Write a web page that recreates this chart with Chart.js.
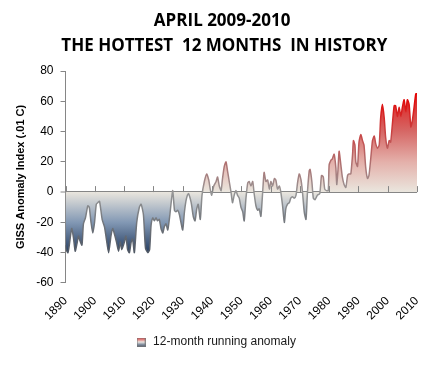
<!DOCTYPE html>
<html>
<head>
<meta charset="utf-8">
<script src="https://cdn.jsdelivr.net/npm/chart.js@4/dist/chart.umd.min.js"></script>
<style>
  html, body { margin: 0; padding: 0; background: #fff; }
  #wrap { width: 442px; height: 365px; }
</style>
</head>
<body>
<div id="wrap"><canvas id="anomalyChart" width="442" height="365"></canvas></div>
<script>
// years (decimal) and 12-month running GISS anomaly (.01 C)
var years = [
  1890.0, 1890.2, 1890.8, 1891.2, 1892.1, 1892.7, 1893.3, 1893.9, 1894.4, 1894.9,
  1895.6, 1896.1, 1896.8, 1897.6, 1898.1, 1898.7, 1899.3, 1899.9, 1900.5, 1901.0,
  1901.6, 1902.5, 1903.3, 1903.8, 1904.7, 1905.5, 1906.1, 1906.6, 1907.4, 1908.1,
  1908.7, 1909.2, 1910.1, 1910.6, 1911.2, 1911.8, 1912.4, 1912.9, 1913.5, 1914.3,
  1915.2, 1915.8, 1916.6, 1917.3, 1918.1, 1918.7, 1919.2, 1919.8, 1920.3, 1920.9,
  1921.4, 1922.0, 1922.6, 1923.2, 1923.7, 1924.3, 1924.9, 1925.5, 1926.0, 1926.6,
  1927.2, 1927.7, 1928.3, 1928.9, 1929.4, 1930.0, 1930.6, 1931.1, 1931.6, 1932.0,
  1932.9, 1933.6, 1934.2, 1934.8, 1935.3, 1936.0, 1936.6, 1937.4, 1938.2, 1938.9,
  1939.4, 1939.9, 1940.6, 1941.4, 1941.9, 1942.5, 1943.1, 1943.6, 1944.2, 1944.8,
  1945.3, 1945.9, 1946.5, 1947.0, 1947.6, 1948.2, 1948.7, 1949.3, 1949.9, 1950.5,
  1951.0, 1951.6, 1952.2, 1952.7, 1953.3, 1953.9, 1954.4, 1955.0, 1955.6, 1956.1,
  1956.7, 1957.3, 1957.8, 1958.4, 1959.0, 1959.6, 1960.1, 1960.7, 1961.3, 1961.8,
  1962.4, 1963.0, 1963.5, 1964.1, 1964.7, 1965.2, 1965.8, 1966.4, 1966.9, 1967.5,
  1968.1, 1968.7, 1969.2, 1969.8, 1970.4, 1970.9, 1971.5, 1972.1, 1972.6, 1973.2,
  1973.5, 1974.1, 1974.6, 1975.2, 1976.0, 1976.8, 1977.4, 1978.0, 1978.5, 1979.1,
  1979.7, 1980.0, 1980.6, 1981.1, 1981.7, 1982.3, 1982.6, 1983.0, 1983.4, 1984.0,
  1984.5, 1985.1, 1985.7, 1986.3, 1986.8, 1987.4, 1988.0, 1988.3, 1988.8, 1989.1,
  1989.7, 1990.2, 1990.8, 1991.4, 1991.9, 1992.5, 1993.1, 1993.6, 1994.2, 1994.8,
  1995.4, 1995.9, 1996.5, 1997.1, 1997.6, 1998.2, 1998.8, 1999.3, 1999.9, 2000.5,
  2001.0, 2001.6, 2002.2, 2002.7, 2003.3, 2003.9, 2004.5, 2005.0, 2005.6, 2006.2,
  2006.7, 2007.3, 2007.9, 2008.4, 2009.0, 2009.6, 2010.0
];
var anomaly = [
  -35, -38, -40, -36, -24, -30, -39, -34, -29, -32,
  -35, -21, -17, -9, -10, -20, -27, -20, -8, -7,
  -6, -18, -23, -29, -40, -29, -24, -27, -33, -39,
  -33, -38, -33, -29, -38, -40, -33, -31, -40, -20,
  -10, -8, -15, -37, -40, -38, -22, -17, -19, -17,
  -19, -18, -24, -27, -23, -21, -25, -17, -8, 1,
  -12, -13, -12, -15, -20, -25, -13, -6, -2, -1,
  -7, -16, -19, -11, -8, -18, -2, 7, 12, 8,
  2, -2, 4, 7, 10, 4, 1, 9, 17, 20,
  14, 7, 0, -7, -2, 1, -2, -4, -10, -13,
  -19, -4, 6, 7, 4, 7, -1, -9, -12, -11,
  -16, 0, 13, 7, 8, 2, 7, 4, 9, 8,
  2, 4, 0, -9, -20, -11, -8, -7, -4, -3,
  -4, -2, 6, 12, 8, 0, -13, -18, 0, 14,
  15, 7, -4, -5, -2, -1, 11, 10, 2, 1,
  1, 18, 21, 22, 25, 16, 5, 14, 27, 18,
  10, 5, 3, 11, 12, 12, 25, 34, 31, 20,
  17, 33, 38, 34, 31, 16, 9, 11, 22, 34,
  37, 32, 29, 31, 49, 58, 49, 36, 29, 34,
  33, 45, 57, 57, 50, 56, 50, 56, 61, 53,
  61, 58, 43, 47, 56, 65, 65
];
var yTicks = [80, 60, 40, 20, 0, -20, -40, -60];
var xTicks = [1890, 1900, 1910, 1920, 1930, 1940, 1950, 1960, 1970, 1980, 1990, 2000, 2010];

var points = years.map(function(y, i) { return { x: y, y: anomaly[i] }; });

// red above zero, beige at zero, blue below
var fillStops = [
  [65, 'rgb(222,24,24)'],
  [40, 'rgb(214,104,102)'],
  [20, 'rgb(228,176,170)'],
  [0, 'rgb(234,230,222)'],
  [-20, 'rgb(130,152,180)'],
  [-40, 'rgb(36,60,96)']
];
var lineStops = [
  [65, 'rgb(230,0,0)'],
  [30, 'rgb(190,90,90)'],
  [0, 'rgb(150,150,150)'],
  [-40, 'rgb(80,88,100)']
];

function makeGradient(chart, stops) {
  var area = chart.chartArea;
  if (!area) return null;
  var ys = chart.scales.y;
  var top = ys.getPixelForValue(stops[0][0]);
  var bottom = ys.getPixelForValue(stops[stops.length - 1][0]);
  var g = chart.ctx.createLinearGradient(0, top, 0, bottom);
  stops.forEach(function(s) {
    g.addColorStop((ys.getPixelForValue(s[0]) - top) / (bottom - top), s[1]);
  });
  return g;
}

// little gradient box for the legend
var legendBox = document.createElement('canvas');
legendBox.width = 9;
legendBox.height = 9;
(function() {
  var c = legendBox.getContext('2d');
  var g = c.createLinearGradient(0, 0, 0, 9);
  g.addColorStop(0, 'rgb(215,40,40)');
  g.addColorStop(0.5, 'rgb(235,230,225)');
  g.addColorStop(1, 'rgb(50,75,110)');
  c.fillStyle = g;
  c.fillRect(0, 0, 9, 9);
  c.strokeStyle = 'rgba(120,120,120,0.8)';
  c.strokeRect(0.5, 0.5, 8, 8);
})();

// small tick marks standing on the zero line
var zeroTicks = {
  id: 'zeroTicks',
  afterDatasetsDraw: function(chart) {
    var ctx = chart.ctx;
    var y0 = chart.scales.y.getPixelForValue(0);
    ctx.save();
    ctx.strokeStyle = '#868686';
    ctx.lineWidth = 1;
    xTicks.forEach(function(t) {
      var x = Math.round(chart.scales.x.getPixelForValue(t)) + 0.5;
      ctx.beginPath();
      ctx.moveTo(x, y0 - 6);
      ctx.lineTo(x, y0);
      ctx.stroke();
    });
    ctx.restore();
  }
};

var font = "'Liberation Sans', Arial, sans-serif";
var ctx = document.getElementById('anomalyChart').getContext('2d');
var chart = new Chart(ctx, {
  type: 'line',
  data: {
    datasets: [{
      label: '12-month running anomaly',
      data: points,
      borderColor: function(c) { return makeGradient(c.chart, lineStops); },
      backgroundColor: function(c) { return makeGradient(c.chart, fillStops); },
      borderWidth: 1.5,
      fill: 'origin',
      pointRadius: 0,
      tension: 0.2,
      pointStyle: legendBox
    }]
  },
  plugins: [zeroTicks],
  options: {
    responsive: false,
    animation: false,
    layout: { padding: { left: 14, right: 25, top: 0, bottom: 7 } },
    plugins: {
      title: {
        display: true,
        text: ['   APRIL 2009-2010', '    THE HOTTEST  12 MONTHS  IN HISTORY'],
        color: '#000',
        font: { family: "'Open Sans', sans-serif", size: 17, weight: 'bold', lineHeight: 1.5 },
        padding: { top: 8, bottom: 12 }
      },
      legend: {
        position: 'bottom',
        labels: {
          usePointStyle: true,
          color: '#1a1a1a',
          font: { family: font, size: 12 },
          padding: 10
        }
      },
      tooltip: { enabled: false }
    },
    scales: {
      x: {
        type: 'linear',
        min: 1890,
        max: 2010,
        afterBuildTicks: function(scale) {
          scale.ticks = xTicks.map(function(v) { return { value: v }; });
        },
        ticks: {
          minRotation: 45,
          maxRotation: 45,
          color: '#000',
          font: { family: font, size: 12 },
          padding: 3,
          callback: function(v) { return String(v); }
        },
        grid: { display: false },
        border: { display: false }
      },
      y: {
        min: -60,
        max: 80,
        afterBuildTicks: function(scale) {
          scale.ticks = yTicks.map(function(v) { return { value: v }; });
        },
        ticks: {
          color: '#000',
          font: { family: font, size: 12 },
          padding: 7
        },
        grid: {
          color: function(c) { return c.tick && c.tick.value === 0 ? '#868686' : 'rgba(0,0,0,0)'; },
          lineWidth: function(c) { return c.tick && c.tick.value === 0 ? 2 : 1; },
          tickColor: '#868686',
          tickWidth: 1,
          tickLength: 5
        },
        border: { display: true, color: '#868686', width: 1 },
        title: {
          display: true,
          text: 'GISS Anomaly Index (.01 C)',
          color: '#000',
          font: { family: font, size: 11, weight: 'bold' },
          padding: { top: 0, bottom: 2 }
        }
      }
    }
  }
});
</script>
</body>
</html>
